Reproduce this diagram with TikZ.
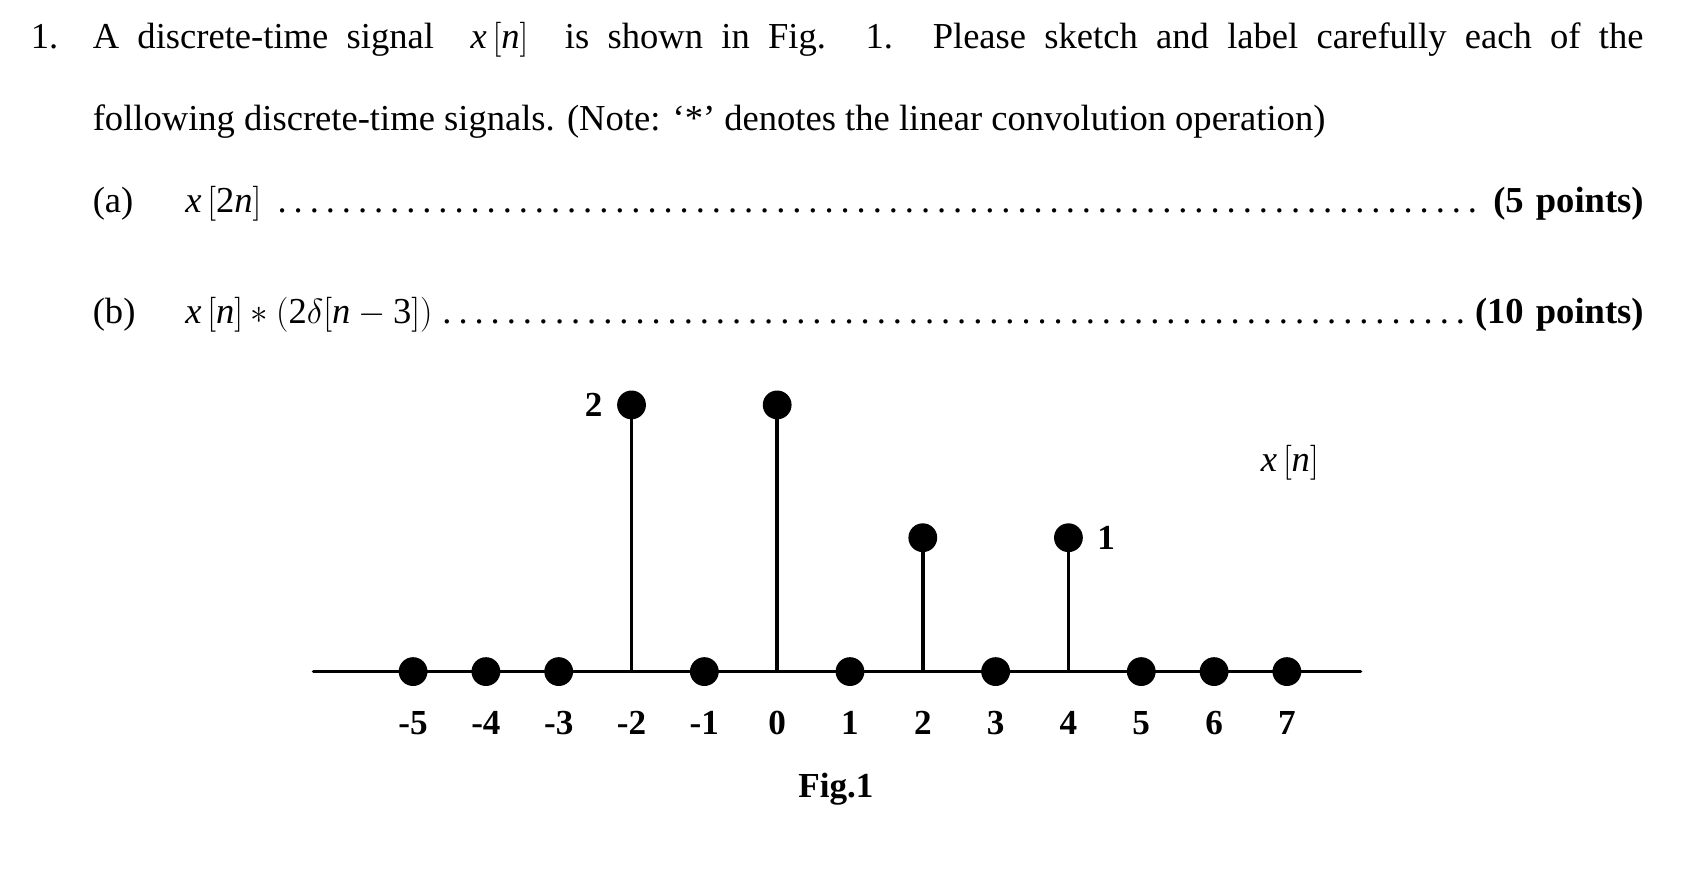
\documentclass[tikz,border=0pt]{standalone}
\usepackage{fontspec}
\setmainfont{Liberation Serif}
\usetikzlibrary{positioning}
\newcommand{\sig}[1]{$\textit{x}\,\bigl[#1\bigr]$}
\begin{document}
\begin{tikzpicture}[x=0.0272cm, y=-0.0272cm,
    every node/.style={font=\fontsize{26}{30}\selectfont, inner sep=0pt},
    sample/.style={circle, fill=black, minimum size=0.72cm},
    lab/.style={font=\fontsize{25}{30}\selectfont\bfseries}]
        \useasboundingbox (0,0) rectangle (1560,807);
        % Question text
        \node[anchor=base west] (num) at (28,45) {1.};
        \node[anchor=base west] (line1) at (85,45)
            {\makebox[38.76cm][s]{A discrete-time signal \ \sig{\textit{n}} \ is shown in Fig. 1. Please sketch and label carefully each of the}};
        \node[anchor=base west] (line2) at (85,120)
            {following discrete-time signals. (Note: `*' denotes the linear convolution operation)};
        \node[anchor=base west] (pa) at (85,195) {(a)};
        \node[anchor=base west, text width=36.45cm] (qa) at (170,195)
            {\sig{\textrm{2}\textit{n}}\,\dotfill\,\textbf{(5 points)}};
        \node[anchor=base west] (pb) at (85,297) {(b)};
        \node[anchor=base west, text width=36.45cm] (qb) at (170,297)
            {$\textit{x}\,\bigl[\textit{n}\bigr]*\bigl(\textrm{2}\delta\bigl[\textit{n}-\textrm{3}\bigr]\bigr)$\,\dotfill\,\textbf{(10 points)}};
        
        % Axis
        \coordinate (axl) at (288,617);
        \coordinate (axr) at (1250,617);
        \draw[line width=2.5pt, line cap=round] (axl) -- (axr);
        
        % Samples and ticks
        \foreach \n/\h in {-5/0,-4/0,-3/0,-2/245,-1/0,0/245,1/0,2/123,3/0,4/123,5/0,6/0,7/0} {
            \coordinate (b\n) at (714+\n*66.9,617);
            \node[sample] (s\n) at (714+\n*66.9,617-\h) {};
            \draw[line width=2.5pt] (b\n) -- (s\n.center);
            \node[lab, anchor=base] (t\n) at (714+\n*66.9,675) {\n};
        }
        
        % Labels
        \node[lab, left=10pt of s-2] (v2) {2};
        \node[lab, right=10pt of s4] (v1) {1};
        \node (xn) at (1185,425) {\sig{\textit{n}}};
        \node[lab, anchor=base] (fig) at (768,733) {Fig.1};
\end{tikzpicture}
\end{document}
